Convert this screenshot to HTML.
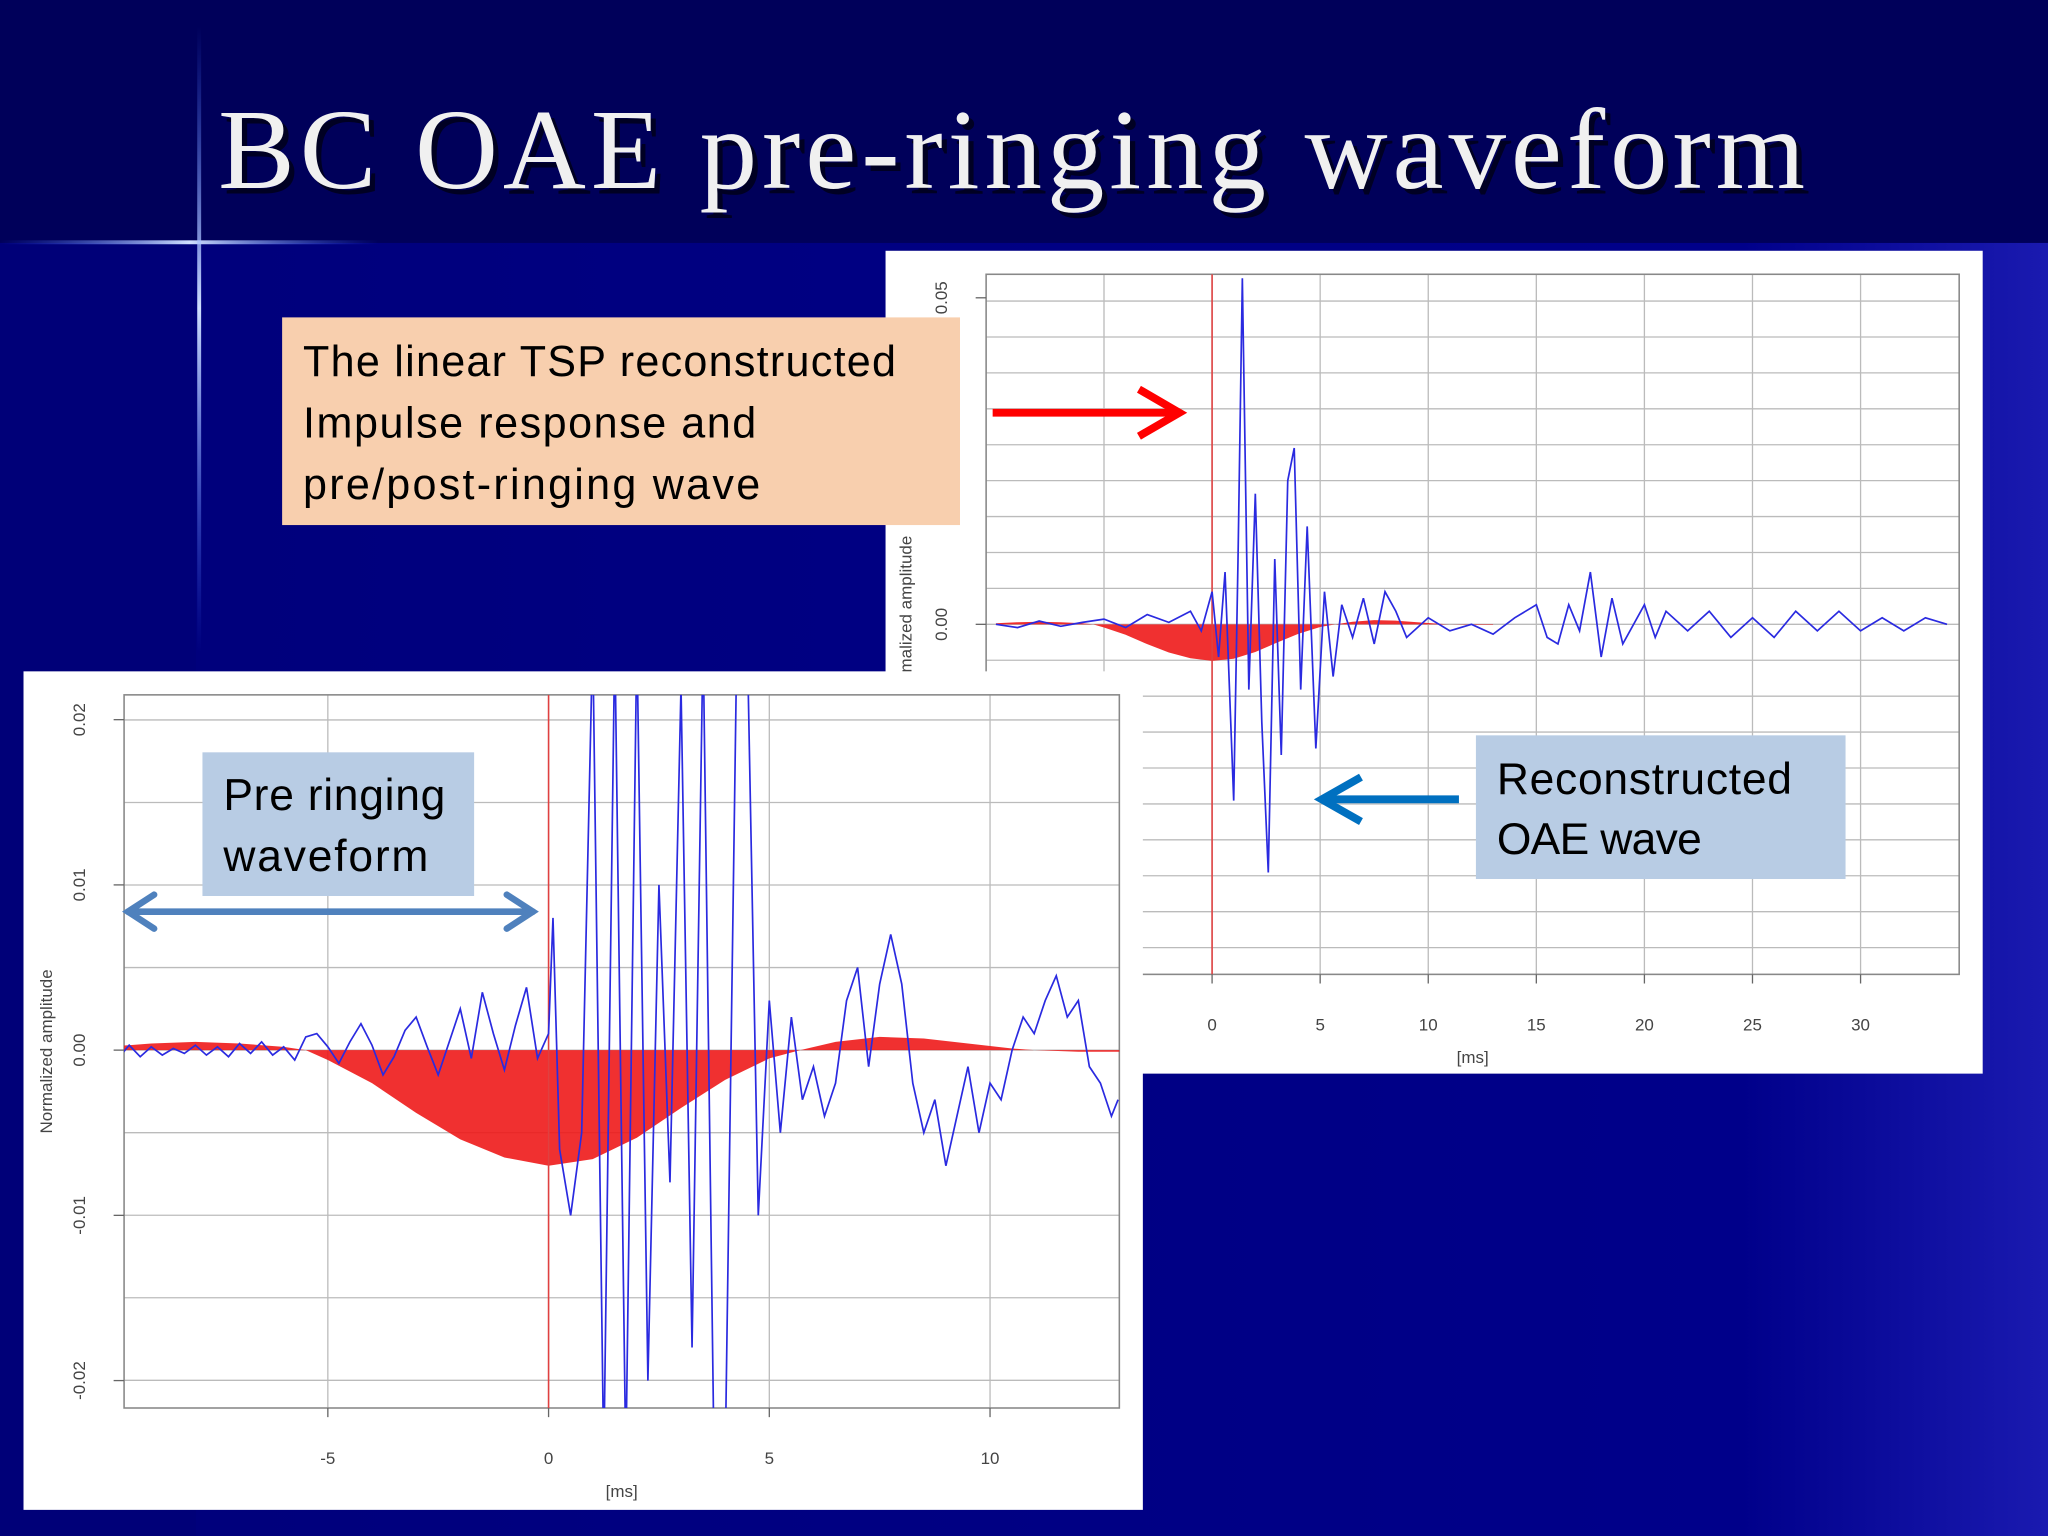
<!DOCTYPE html>
<html><head><meta charset="utf-8"><style>
html,body{margin:0;padding:0;background:#00006a;}
svg{display:block;}
</style></head><body>
<svg id="s" width="2048" height="1536" viewBox="0 0 1568 1176" xmlns="http://www.w3.org/2000/svg">
<defs>
<linearGradient id="bg" x1="0" y1="0" x2="1" y2="0">
<stop offset="0" stop-color="#00007a"/><stop offset="0.85" stop-color="#00008a"/><stop offset="1" stop-color="#1a1ab0"/>
</linearGradient>
<linearGradient id="hl" x1="0" y1="0" x2="1" y2="0">
<stop offset="0" stop-color="#3060ff" stop-opacity="0"/><stop offset="0.5" stop-color="#d0e0ff"/><stop offset="1" stop-color="#3060ff" stop-opacity="0"/>
</linearGradient>
<linearGradient id="vl" x1="0" y1="0" x2="0" y2="1">
<stop offset="0" stop-color="#3060ff" stop-opacity="0"/><stop offset="0.45" stop-color="#d0e0ff"/><stop offset="1" stop-color="#3060ff" stop-opacity="0"/>
</linearGradient>
<clipPath id="c1"><rect x="755" y="210" width="745" height="536"/></clipPath>
<clipPath id="c2"><rect x="95" y="532" width="762" height="546"/></clipPath>
</defs>
<rect width="1568" height="1176" fill="url(#bg)"/>
<rect width="1568" height="186" fill="#00005a"/>
<rect x="0" y="186" width="150" height="990" fill="#000078"/>
<rect x="0" y="184" width="290" height="3" fill="url(#hl)"/>
<rect x="151" y="20" width="3" height="480" fill="url(#vl)"/>
<text x="171" y="148" font-family="Liberation Serif, serif" font-size="88" fill="#000" opacity="0.6" textLength="1215">BC OAE pre-ringing waveform</text>
<text x="167" y="144" font-family="Liberation Serif, serif" font-size="88" fill="#f0f0f0" textLength="1215">BC OAE pre-ringing waveform</text>

<g>
<rect x="678" y="192" width="840" height="630" fill="#fff"/>
<g id="g1"></g>
</g>

<g>
<rect x="216" y="243" width="519" height="159" fill="#f8cfae"/>
<g font-family="Liberation Sans, sans-serif" font-size="33" fill="#000">
<text x="232" y="288" textLength="454">The linear TSP reconstructed</text>
<text x="232" y="335" textLength="347">Impulse response and</text>
<text x="232" y="382" textLength="350">pre/post-ringing wave</text>
</g></g>
<g stroke="#ff0000" stroke-width="6" fill="none">
<line x1="760" y1="316" x2="900" y2="316"/><polyline points="872,298 903,316 872,334"/>
</g>

<g>
<rect x="18" y="514" width="857" height="642" fill="#fff"/>
<g id="g2"></g>
</g>

<g>
<rect x="1130" y="563" width="283" height="110" fill="#b8cce4"/>
<g font-family="Liberation Sans, sans-serif" font-size="34" fill="#000">
<text x="1146" y="608" textLength="226">Reconstructed</text>
<text x="1146" y="654" textLength="157">OAE wave</text></g></g>
<g stroke="#0070c0" stroke-width="6" fill="none">
<line x1="1117" y1="612" x2="1015" y2="612"/><polyline points="1042,595 1012,612 1042,629"/>
</g>
<g>
<rect x="155" y="576" width="208" height="110" fill="#b8cce4"/>
<g font-family="Liberation Sans, sans-serif" font-size="34" fill="#000">
<text x="171" y="620" textLength="170">Pre ringing</text>
<text x="171" y="667" textLength="157">waveform</text></g></g>
<g stroke="#4f81bd" stroke-width="5" fill="none" stroke-linecap="round">
<line x1="98" y1="698" x2="408" y2="698"/><polyline points="118,685 98,698 118,711"/><polyline points="388,685 408,698 388,711"/>
</g>
</svg>
<script>
// Zoomed chart data (ms, amplitude x0.001)
const t2 = [-9.75,-9.5,-9.25,-9,-8.75,-8.5,-8.25,-8,-7.75,-7.5,-7.25,-7,-6.75,-6.5,-6.25,-6,-5.75,-5.5,-5.25,-5,-4.75,-4.5,-4.25,-4,-3.75,-3.5,-3.25,-3,-2.75,-2.5,-2.25,-2,-1.75,-1.5,-1.25,-1,-0.75,-0.5,-0.25,0,0.1,0.25,0.5,0.75,1,1.25,1.5,1.75,2,2.25,2.5,2.75,3,3.25,3.5,3.75,4,4.25,4.5,4.75,5,5.25,5.5,5.75,6,6.25,6.5,6.75,7,7.25,7.5,7.75,8,8.25,8.5,8.75,9,9.25,9.5,9.75,10,10.25,10.5,10.75,11,11.25,11.5,11.75,12,12.25,12.5,12.75,12.9];
const v2 = [-0.5,0.3,-0.4,0.2,-0.3,0.1,-0.2,0.3,-0.3,0.2,-0.4,0.4,-0.2,0.5,-0.3,0.2,-0.6,0.8,1.0,0.2,-0.8,0.5,1.6,0.3,-1.5,-0.4,1.2,2.0,0.2,-1.5,0.5,2.5,-0.5,3.5,1.0,-1.2,1.5,3.8,-0.5,1,8,-6,-10,-5,25,-25,25,-25,25,-20,10,-8,22,-18,25,-25,-25,22,25,-10,3,-5,2,-3,-1,-4,-2,3,5,-1,4,7,4,-2,-5,-3,-7,-4,-1,-5,-2,-3,0,2,1,3,4.5,2,3,-1,-2,-4,-3];
// Overview chart data
const t1 = [-10,-9,-8,-7,-6,-5,-4,-3,-2,-1,-0.5,0,0.3,0.6,1,1.2,1.4,1.7,2,2.3,2.6,2.9,3.2,3.5,3.8,4.1,4.4,4.8,5.2,5.6,6,6.5,7,7.5,8,8.5,9,10,11,12,13,14,15,15.5,16,16.5,17,17.5,18,18.5,19,20,20.5,21,22,23,24,25,26,27,28,29,30,31,32,33,34];
const v1 = [0,-0.5,0.5,-0.3,0.3,0.8,-0.5,1.5,0.3,2,-1,5,-5,8,-27,10,53,-10,20,-15,-38,10,-20,22,27,-10,15,-19,5,-8,3,-2,4,-3,5,2,-2,1,-1,0,-1.5,1,3,-2,-3,3,-1,8,-5,4,-3,3,-2,2,-1,2,-2,1,-2,2,-1,2,-1,1,-1,1,0];
// Red envelope (ms, amplitude x0.001)
const envT = [-10,-9,-8,-7,-6,-5.5,-5,-4,-3,-2,-1,0,1,2,3,4,5,5.7,6.5,7.5,8.5,9.5,10.5,11,12,13];
const envV = [0.2,0.4,0.5,0.4,0.2,0,-0.6,-2.0,-3.8,-5.4,-6.5,-7,-6.6,-5.3,-3.5,-1.8,-0.5,0,0.5,0.8,0.7,0.4,0.1,0,-0.1,-0.1];
const xTicks1 = [0,5,10,15,20,25,30];
const xTicks2 = [-5,0,5,10];
const yTicks2 = [-0.02,-0.01,0.00,0.01,0.02];

const NS='http://www.w3.org/2000/svg';
function mk(tag,attrs,parent){const e=document.createElementNS(NS,tag);for(const k in attrs)e.setAttribute(k,attrs[k]);parent.appendChild(e);return e;}

function drawChart(g, o){
  const X=t=>o.x0+(t-o.t0)*o.px; const Y=v=>o.y0-v*o.py;
  for(let y=o.y0; y>=o.top; y-=o.gy) mk('line',{x1:o.left,x2:o.right,y1:y,y2:y,stroke:'#bbb','stroke-width':1},g);
  for(let y=o.y0+o.gy; y<=o.bottom; y+=o.gy) mk('line',{x1:o.left,x2:o.right,y1:y,y2:y,stroke:'#bbb','stroke-width':1},g);
  o.vgrid.forEach(t=>mk('line',{x1:X(t),x2:X(t),y1:o.top,y2:o.bottom,stroke:'#bbb','stroke-width':1},g));
  mk('rect',{x:o.left,y:o.top,width:o.right-o.left,height:o.bottom-o.top,fill:'none',stroke:'#888','stroke-width':1.2},g);
  const cg=mk('g',{'clip-path':o.clip},g);
  let d='M'+X(envT[0])+','+Y(0);
  envT.forEach((t,i)=>{d+=' L'+X(t)+','+Y(envV[i]*o.envScale);});
  d+=' L'+X(envT[envT.length-1])+','+Y(0)+' Z';
  const env=mk('path',{d:d,fill:'#ee1a1a','fill-opacity':0.9},cg);
  
  
  const zl=mk('line',{x1:X(0),x2:X(0),y1:o.top,y2:o.bottom,stroke:'#e04040','stroke-width':1.2},cg);
  
  
  const pts=o.t.map((t,i)=>X(t)+','+Y(o.v[i])).join(' ');
  const w=mk('polyline',{points:pts,fill:'none',stroke:'#2a2ae0','stroke-width':1.3},cg);
  
  
  o.xt.forEach(t=>{
    mk('line',{x1:X(t),x2:X(t),y1:o.bottom,y2:o.bottom+7,stroke:'#666'},g);
    const tx=mk('text',{x:X(t),y:o.bottom+43,'text-anchor':'middle','font-family':'Liberation Sans, sans-serif','font-size':13,fill:'#444'},g);
    tx.textContent=String(t);
    
    
  });
  const xl=mk('text',{x:(o.left+o.right)/2,y:o.bottom+68,'text-anchor':'middle','font-family':'Liberation Sans, sans-serif','font-size':13,fill:'#444'},g);
  xl.textContent='[ms]';
  
  
  o.yt.forEach(v=>{
    const y=Y(v*1000);
    mk('line',{x1:o.left-8,x2:o.left,y1:y,y2:y,stroke:'#666'},g);
    const tx=mk('text',{x:0,y:0,transform:`translate(${o.left-30},${y}) rotate(-90)`,'text-anchor':'middle','font-family':'Liberation Sans, sans-serif','font-size':13,fill:'#444'},g);
    tx.textContent=v.toFixed(2);
    
    
  });
  const yl=mk('text',{x:0,y:0,transform:`translate(${o.yTitleX},${o.yTitleY}) rotate(-90)`,'text-anchor':'middle','font-family':'Liberation Sans, sans-serif','font-size':13,fill:'#444'},g);
  yl.textContent='Normalized amplitude';
  
  
}
drawChart(document.getElementById('g1'),{t:t1,v:v1,t0:0,x0:928,px:16.55,y0:478,py:5,left:755,right:1500,top:210,bottom:746,gy:27.5,vgrid:[-5,0,5,10,15,20,25,30],clip:'url(#c1)',xt:xTicks1,yt:[0.00,0.05],envScale:0.8,yTitleX:698,yTitleY:473});
drawChart(document.getElementById('g2'),{t:t2,v:v2,t0:0,x0:420,px:33.8,y0:804,py:12.65,left:95,right:857,top:532,bottom:1078,gy:63.2,vgrid:[-5,0,5,10],clip:'url(#c2)',xt:xTicks2,yt:yTicks2,envScale:1,yTitleX:40,yTitleY:805});
</script>
</body></html>
